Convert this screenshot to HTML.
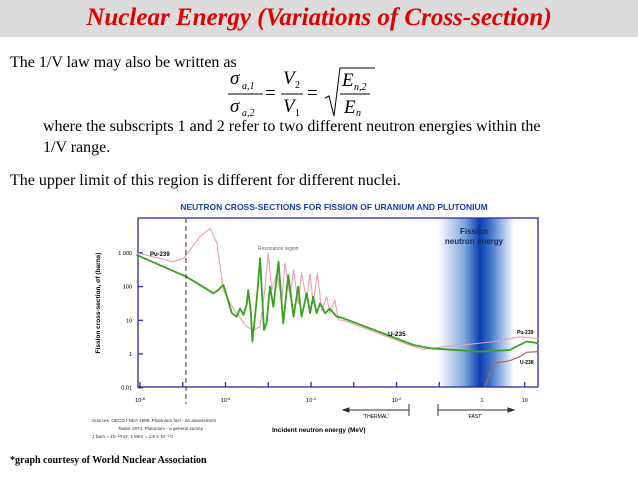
<!DOCTYPE html>
<html><head><meta charset="utf-8"><style>
html,body{margin:0;padding:0;background:#fff;}
body{width:638px;height:478px;overflow:hidden;position:relative;font-family:"Liberation Serif",serif;}
.t{position:absolute;white-space:nowrap;font-size:16px;color:#000;}
</style></head><body>
<div style="position:absolute;left:0;top:0;width:638px;height:37px;background:#dcdcdc;"></div>
<div style="position:absolute;left:0;top:4px;width:638px;text-align:center;font:italic bold 25px 'Liberation Serif',serif;color:#e00000;">Nuclear Energy (Variations of Cross-section)</div>
<div class="t" style="left:10px;top:54px;">The 1/V law may also be written as</div>
<svg style="position:absolute;left:225px;top:62px" width="160" height="56">
<g font-family="Liberation Serif" font-style="italic" font-size="19">
<text x="5" y="22">σ</text><text x="17" y="27" font-size="10">a,1</text>
<line x1="3" y1="32" x2="38" y2="32" stroke="#000"/>
<text x="5" y="50">σ</text><text x="17" y="54" font-size="10">a,2</text>
<text x="40" y="37" font-style="normal">=</text>
<text x="58" y="22">V</text><text x="70" y="26" font-size="10" font-style="normal">2</text>
<line x1="56" y1="32" x2="78" y2="32" stroke="#000"/>
<text x="58" y="50">V</text><text x="70" y="54" font-size="10" font-style="normal">1</text>
<text x="82" y="37" font-style="normal">=</text>
<polyline points="100,36 104,34 109,54 115,6 150,6" fill="none" stroke="#000" stroke-width="1"/>
<text x="117" y="24">E</text><text x="129" y="28" font-size="10">n,2</text>
<line x1="115" y1="32" x2="145" y2="32" stroke="#000"/>
<text x="119" y="51">E</text><text x="131" y="54" font-size="10">n</text>
</g></svg>
<div class="t" style="left:43px;top:118px;">where the subscripts 1 and 2 refer to two different neutron energies within the</div>
<div class="t" style="left:43px;top:139px;">1/V range.</div>
<div class="t" style="left:10px;top:172px;">The upper limit of this region is different for different nuclei.</div>
<div style="position:absolute;left:10px;top:455px;font:bold 10px 'Liberation Serif',serif;">*graph courtesy of World Nuclear Association</div>

<svg id="chart" style="position:absolute;left:0;top:0" width="638" height="478" font-family="Liberation Sans, sans-serif">
<defs><linearGradient id="bg" x1="0" x2="1" y1="0" y2="0">
<stop offset="0" stop-color="#ffffff"/><stop offset="0.35" stop-color="#7fa8dc"/><stop offset="0.55" stop-color="#0a3fb0"/><stop offset="0.68" stop-color="#3a70c8"/><stop offset="1" stop-color="#ffffff"/></linearGradient></defs>
<text x="334" y="210" text-anchor="middle" font-size="8.5" font-weight="bold" fill="#1a3fb0">NEUTRON CROSS-SECTIONS FOR FISSION OF URANIUM AND PLUTONIUM</text>
<rect x="438" y="218" width="76" height="169" fill="url(#bg)"/>
<text x="474" y="234" text-anchor="middle" font-size="8" font-weight="bold" fill="#1a2a60">Fission</text>
<text x="474" y="244" text-anchor="middle" font-size="8" font-weight="bold" fill="#1a2a60">neutron energy</text>
<rect x="138" y="218" width="400" height="169" fill="none" stroke="#2a2aa0" stroke-width="1.3"/>
<g id="axes"></g><g id="series"></g>
<text transform="translate(100,303) rotate(-90)" text-anchor="middle" font-size="6.5" font-weight="bold">Fission cross-section, σf (barns)</text>
<text x="258" y="250" font-size="5" fill="#666">Resonance region</text>
<text x="150" y="256" font-size="6" font-weight="bold">Pu-239</text>
<text x="388" y="336" font-size="6.5" font-weight="bold">U-235</text>
<text x="517" y="334" font-size="5" font-weight="bold">Pu-239</text>
<text x="520" y="364" font-size="5" font-weight="bold">U-238</text>
<line x1="186" y1="218" x2="186" y2="404" stroke="#333" stroke-dasharray="5,3"/>
<g stroke="#333" fill="#333">
<line x1="345" y1="410" x2="409" y2="410"/><line x1="409" y1="404" x2="409" y2="416"/><polygon points="343,410 349,408 349,412"/></g>
<text x="376" y="418" text-anchor="middle" font-size="5">'THERMAL'</text>
<g stroke="#333" fill="#333">
<line x1="438" y1="410" x2="511" y2="410"/><line x1="438" y1="404" x2="438" y2="416"/><polygon points="514,410 508,408 508,412"/></g>
<text x="475" y="418" text-anchor="middle" font-size="5">'FAST'</text>
<text x="272" y="432" font-size="6.5" font-weight="bold">Incident neutron energy (MeV)</text>
<g font-size="4.6" fill="#333">
<text x="92" y="422">Sources: OECD / NEA 1989, Plutonium fuel - an assessment</text>
<text x="118" y="430">Taube 1974, Plutonium - a general survey</text>
<text x="92" y="438">1 barn = 10⁻²⁸m2,  1 MeV = 1.6 x 10⁻¹³J</text></g>
</svg>
<script>
const yTickVals=[3,2,1,0,-1];
const yTickLabels=["1 000","100","10","1","0.01"];
const xTickVals=[-8,-6,-4,-2,0,1];
const xTickLabels=["10-8","10-6","10-4","10-2","1","10"];
const xMinorTicks=[-7,-5,-3,-1];
const pu239LogE=[-8.08,-7.22,-6.98,-6.6,-6.36,-6.2,-6.05,-5.8,-5.5,-5.35,-5.19,-5.08,-5.0,-4.92,-4.8,-4.68,-4.61,-4.49,-4.41,-4.3,-4.22,-4.1,-4.02,-3.95,-3.85,-3.75,-3.63,-3.56,-3.44,-3.36,-3.24,-1.61,-1.37,-0.83,0.34,0.89,1.32];
const pu239LogS=[3.0,2.74,2.84,3.48,3.73,3.29,1.9,1.3,0.81,0.71,0.81,1.9,3.0,1.9,2.39,1.6,2.69,1.7,2.49,1.5,2.39,1.6,2.39,1.5,2.39,1.3,1.7,1.21,1.6,1.01,1.0,0.22,0.14,0.22,0.37,0.51,0.46];
const u235LogE=[-8.08,-6.91,-6.28,-6.17,-6.05,-5.85,-5.74,-5.66,-5.58,-5.5,-5.47,-5.41,-5.37,-5.27,-5.19,-5.1,-5.04,-4.96,-4.88,-4.76,-4.65,-4.53,-4.41,-4.3,-4.22,-4.1,-4.02,-3.95,-3.87,-3.79,-3.67,-3.56,-3.4,-3.24,-1.61,-1.22,-0.05,0.65,1.04,1.32];
const u235LogS=[2.94,2.29,1.8,1.9,2.05,1.21,1.11,1.35,1.16,1.5,1.9,1.3,0.37,1.6,2.84,0.71,0.91,2.0,1.4,2.74,0.91,2.34,1.11,2.0,1.11,1.8,1.21,1.7,1.21,1.5,1.21,1.35,1.11,1.06,0.27,0.17,0.07,0.12,0.37,0.32];
const u238LogE=[0.07,0.26,0.65,0.89,1.04,1.32];
const u238LogS=[-0.97,-0.28,-0.2,-0.08,0.05,0.07];
const X=l=>140+(l+8)*42.75, Y=l=>354-l*33.7;
const NS='http://www.w3.org/2000/svg';
const ax=document.getElementById('axes'), se=document.getElementById('series');
function mk(tag,at,par){const e=document.createElementNS(NS,tag);for(const k in at)e.setAttribute(k,at[k]);par.appendChild(e);return e;}
yTickVals.forEach((v,i)=>{
 const t=mk('line',{x1:138,x2:143,y1:Y(v),y2:Y(v),stroke:'#2a2aa0','stroke-width':1.3},ax);
 
 
 const l=mk('text',{x:132,y:Y(v)+2,'text-anchor':'end','font-size':5.5},ax);l.textContent=yTickLabels[i];
 
 
});
xTickVals.concat(xMinorTicks).forEach(v=>{
 const t=mk('line',{x1:X(v),x2:X(v),y1:382,y2:387,stroke:'#2a2aa0','stroke-width':1.3},ax);
 
 
});
xTickVals.forEach((v,i)=>{
 const l=mk('text',{x:X(v),y:402,'text-anchor':'middle','font-size':5.5},ax);
 const s=xTickLabels[i];
 if(s.startsWith('10-')){l.textContent='10';const sp=mk('tspan',{dy:-2,'font-size':4},l);sp.textContent=s.slice(2);}else l.textContent=s;
 
 
});
function line(E,S,col,w,name){
 const p=mk('polyline',{points:E.map((e,i)=>X(e).toFixed(1)+','+Y(S[i]).toFixed(1)).join(' '),fill:'none',stroke:col,'stroke-width':w,'stroke-linejoin':'round'},se);
 
 
}
line(pu239LogE,pu239LogS,'#e8a0b0',1.1,'pu239-line');
line(u235LogE,u235LogS,'#3aa020',1.8,'u235-line');
line(u238LogE,u238LogS,'#a07060',1.2,'u238-line');
</script>
</body></html>
